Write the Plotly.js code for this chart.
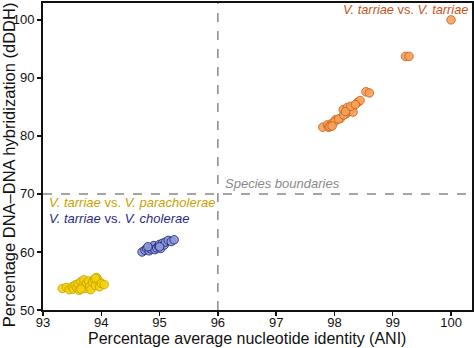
<!DOCTYPE html>
<html><head><meta charset="utf-8">
<script src="https://cdn.plot.ly/plotly-3.0.1.min.js"></script>
<style>html,body{margin:0;padding:0;background:#fff}#chart{width:474px;height:348px}</style>
</head><body><div id="chart"></div>
<script>
// V. tarriae vs. V. tarriae (orange)
const tarriaeANI = [97.80,97.88,97.90,97.95,97.92,98.02,98.00,98.10,98.15,98.22,98.20,98.26,98.30,98.32,98.40,98.44,98.54,98.60,97.96,98.07,98.16,98.19,98.28,98.36,99.22,99.28,100.0];
const tarriaeDDH = [81.5,81.9,81.5,82.1,81.6,82.8,82.4,83.0,84.5,84.9,83.8,84.3,84.7,84.1,85.8,86.1,87.6,87.4,81.7,82.9,83.6,84.2,85.1,85.4,93.7,93.7,100.0];
// V. tarriae vs. V. cholerae (blue)
const choleraeANI = [94.70,94.75,94.78,94.82,94.85,94.88,94.90,94.92,94.95,94.98,95.00,95.02,95.05,95.08,95.10,95.15,95.20,95.25,94.80,95.00];
const choleraeDDH = [60.0,60.3,60.6,60.2,60.5,60.8,61.1,60.4,60.7,61.0,61.3,60.6,61.5,61.2,61.7,62.0,61.8,62.1,60.9,60.9];
// V. tarriae vs. V. paracholerae (yellow)
const paraANI = [93.33,93.40,93.45,93.50,93.52,93.55,93.58,93.60,93.62,93.65,93.68,93.70,93.72,93.75,93.78,93.80,93.82,93.85,93.88,93.90,93.92,93.95,93.97,94.00,94.05,93.90,93.65];
const paraDDH = [53.7,53.9,53.5,54.0,53.6,54.3,53.8,54.5,53.4,54.9,54.2,55.2,53.7,54.6,55.0,54.0,53.5,54.8,55.3,54.2,55.6,55.1,54.0,54.6,54.4,55.5,53.6];
const xTicks = [93,94,95,96,97,98,99,100];
const yTicks = [50,60,70,80,90,100];
const aniThreshold = 96;
const ddhThreshold = 70;
const xTitle = 'Percentage average nucleotide identity (ANI)';
const yTitle = 'Percentage DNA\u2013DNA hybridization (dDDH)';

const F = 'Liberation Sans, Arial, sans-serif';
function tr(x, y, fill, line) {
  return {x, y, type:'scatter', mode:'markers', showlegend:false, hoverinfo:'skip',
    marker:{size:8.5, color:fill, opacity:0.9, line:{color:line, width:1}}};
}
const data = [
  tr(paraANI, paraDDH, '#f5d20a', '#c9a400'),
  tr(choleraeANI, choleraeDDH, '#8e9bd6', '#1f2a86'),
  tr(tarriaeANI, tarriaeDDH, '#f5a35c', '#d0621a')
];
const axCommon = {ticks:'outside', ticklen:4, tickwidth:1.5, tickcolor:'#111',
    showgrid:false, zeroline:false, showline:true, linecolor:'#111', linewidth:2, mirror:true,
    tickfont:{size:13, family:F, color:'#111'}};
const layout = {
  width:474, height:348,
  margin:{l:43, r:2, t:3, b:38},
  paper_bgcolor:'#fff', plot_bgcolor:'#fff',
  font:{family:F, color:'#111'},
  xaxis:Object.assign({range:[93,100.36], tickvals:xTicks, ticklabelstandoff:-5}, axCommon),
  yaxis:Object.assign({range:[50,102.9], tickvals:yTicks}, axCommon),
  shapes:[
    {type:'line', xref:'x', yref:'paper', x0:aniThreshold, x1:aniThreshold, y0:0, y1:1, line:{color:'#888', width:1.5, dash:'dash'}},
    {type:'line', xref:'paper', yref:'y', x0:0, x1:1, y0:ddhThreshold, y1:ddhThreshold, line:{color:'#888', width:1.5, dash:'dash'}}
  ],
  annotations:[
    {xref:'paper', yref:'paper', x:0.4755, y:-0.0928, xanchor:'center', yanchor:'middle', showarrow:false, borderpad:0,
     text:xTitle, font:{size:16, family:F, color:'#111'}},
    {xref:'paper', yref:'paper', x:-0.079, y:0.472, xanchor:'center', yanchor:'middle', showarrow:false, textangle:-90, borderpad:0,
     text:yTitle, font:{size:16.5, family:F, color:'#111'}},
    {xref:'paper', yref:'y', x:0.995, y:101.7, xanchor:'right', yanchor:'middle', showarrow:false,
     text:'<i>V. tarriae</i> vs. <i>V. tarriae</i>', font:{size:12.8, family:F, color:'#c4561a'}},
    {xref:'x', yref:'y', x:96.08, y:71.8, xanchor:'left', yanchor:'middle', showarrow:false,
     text:'<i>Species boundaries</i>', font:{size:13, family:F, color:'#8a8a8a'}},
    {xref:'paper', yref:'y', x:0.01, y:68.5, xanchor:'left', yanchor:'middle', showarrow:false,
     text:'<i>V. tarriae</i> vs. <i>V. paracholerae</i>', font:{size:13, family:F, color:'#c9a000'}},
    {xref:'paper', yref:'y', x:0.01, y:65.8, xanchor:'left', yanchor:'middle', showarrow:false,
     text:'<i>V. tarriae</i> vs. <i>V. cholerae</i>', font:{size:13, family:F, color:'#1f2a86'}}
  ]
};
Plotly.newPlot('chart', data, layout, {displayModeBar:false, staticPlot:true});
</script></body></html>
